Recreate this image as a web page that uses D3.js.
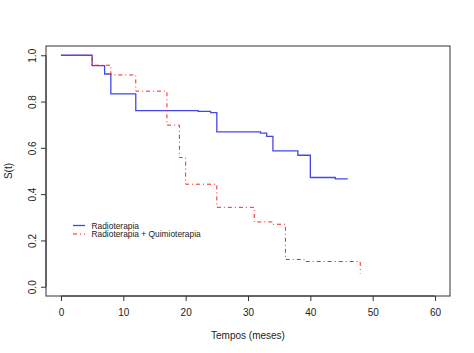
<!DOCTYPE html>
<html>
<head>
<meta charset="utf-8">
<script src="https://cdn.jsdelivr.net/npm/d3@7"></script>
<style>
  body { margin: 0; background: #fff; }
  svg text { font-family: "Liberation Sans", Arial, sans-serif; fill: #222; }
</style>
</head>
<body>
<div id="chart"></div>
<script>
// Kaplan-Meier curves
var radioTimes = [0, 5, 7, 8, 12, 22, 24, 25, 32, 33, 34, 38, 40, 44, 46];
var radioSurv  = [1, 0.955, 0.919, 0.833, 0.761, 0.758, 0.752, 0.669, 0.664, 0.650, 0.587, 0.568, 0.472, 0.466, 0.466];

var quimioTimes = [0, 5, 8, 12, 17, 19, 20, 25, 31, 34, 36, 39, 48];
var quimioSurv  = [1, 0.957, 0.915, 0.845, 0.698, 0.558, 0.443, 0.343, 0.280, 0.270, 0.118, 0.109, 0.057];

var xTicks = [0, 10, 20, 30, 40, 50, 60];
var yTicks = [0, 0.2, 0.4, 0.6, 0.8, 1.0];
var seriesNames = ["Radioterapia", "Radioterapia + Quimioterapia"];

window.onload = function()
{
    main();
};

function main()
{
    var width = 474, height = 353,
        box = {left: 46, right: 450, top: 46, bottom: 296},
        svg = d3.select("#chart").append("svg")
            .attr("width", width)
            .attr("height", height),

        // R style 4% extension on both axes
        x = d3.scaleLinear().domain([-2.4, 62.4]).range([box.left, box.right]),
        y = d3.scaleLinear().domain([-0.04, 1.04]).range([box.bottom, box.top]);

    // plot box
    svg.append("rect")
        .attr("x", box.left).attr("y", box.top)
        .attr("width", box.right - box.left)
        .attr("height", box.bottom - box.top)
        .attr("fill", "none")
        .attr("stroke", "#333")
        .attr("stroke-width", 1);

    // x axis
    var gx = svg.append("g")
        .attr("transform", "translate(0," + box.bottom + ")")
        .call(d3.axisBottom(x).tickValues(xTicks).tickSize(5).tickPadding(8)
            .tickFormat(d3.format("d")));
    gx.select(".domain").remove();
    gx.append("line")
        .attr("x1", x(xTicks[0])).attr("x2", x(xTicks[xTicks.length - 1]))
        .attr("stroke", "#333");

    // y axis, labels turned like R las = 0
    var gy = svg.append("g")
        .attr("transform", "translate(" + box.left + ",0)")
        .call(d3.axisLeft(y).tickValues(yTicks).tickSize(5)
            .tickFormat(d3.format(".1f")));
    gy.select(".domain").remove();
    gy.append("line")
        .attr("y1", y(yTicks[0])).attr("y2", y(yTicks[yTicks.length - 1]))
        .attr("stroke", "#333");
    gy.selectAll(".tick text")
        .attr("x", null).attr("dy", null)
        .attr("text-anchor", "middle")
        .attr("dominant-baseline", "central")
        .attr("transform", "translate(-14,0) rotate(-90)");

    svg.selectAll(".tick line").attr("stroke", "#333");
    svg.selectAll(".tick text")
        .style("font-size", "10px")
        .style("font-family", "'Liberation Sans', Arial, sans-serif")
        .attr("fill", "#222");

    // axis titles
    svg.append("text")
        .attr("x", (box.left + box.right) / 2)
        .attr("y", 335)
        .attr("text-anchor", "middle")
        .attr("dominant-baseline", "central")
        .style("font-size", "10px")
        .text("Tempos (meses)");

    svg.append("text")
        .attr("transform", "translate(8," + (box.top + box.bottom) / 2 + ") rotate(-90)")
        .attr("text-anchor", "middle")
        .attr("dominant-baseline", "central")
        .style("font-size", "10px")
        .text("S(t)");

    // step curves
    var line = d3.line()
        .x(function(d) { return x(d[0]); })
        .y(function(d) { return y(d[1]); })
        .curve(d3.curveStepAfter);

    svg.append("path")
        .datum(d3.zip(radioTimes, radioSurv))
        .attr("d", line)
        .attr("fill", "none")
        .attr("stroke", "#4646e6")
        .attr("stroke-width", 1.3);

    svg.append("path")
        .datum(d3.zip(quimioTimes, quimioSurv))
        .attr("d", line)
        .attr("fill", "none")
        .attr("stroke", "#ff2020")
        .attr("stroke-width", 1)
        .attr("stroke-dasharray", "4,3,1,3");

    // legend
    var legend = svg.append("g"),
        styles = [
            {stroke: "#4646e6", width: 1.3, dash: null},
            {stroke: "#ff2020", width: 1, dash: "4,3,1,3"}
        ];
    seriesNames.forEach(function(name, i)
    {
        var ly = 225.5 + i * 8.5;
        legend.append("line")
            .attr("x1", 73).attr("x2", 85)
            .attr("y1", ly).attr("y2", ly)
            .attr("stroke", styles[i].stroke)
            .attr("stroke-width", styles[i].width)
            .attr("stroke-dasharray", styles[i].dash);
        legend.append("text")
            .attr("x", 91.5)
            .attr("y", ly)
            .attr("dominant-baseline", "central")
            .style("font-size", "8.4px")
            .text(name);
    });
}
</script>
</body>
</html>
